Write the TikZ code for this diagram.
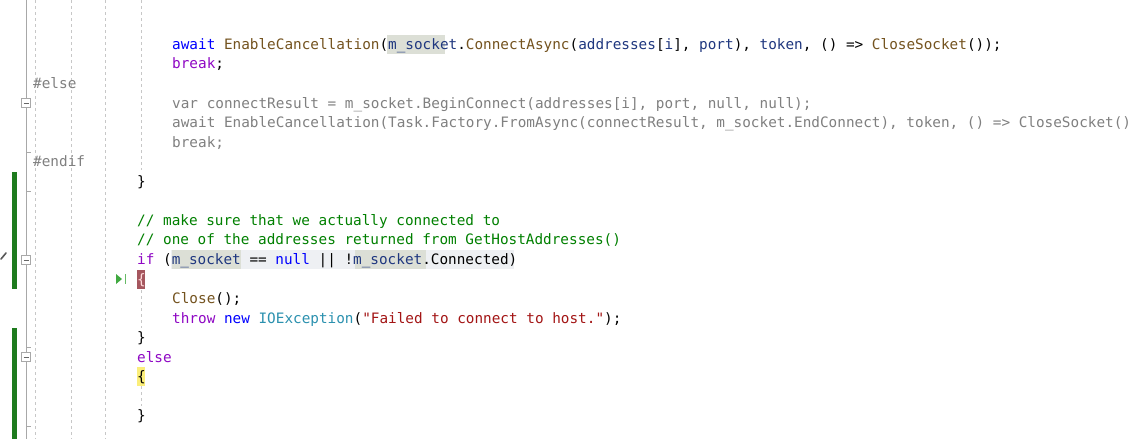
\documentclass[tikz,border=0pt]{standalone}
\usepackage{fontspec}
\newfontfamily\codefont{DejaVu Sans Mono}[Ligatures=NoCommon]
\definecolor{ckwc}{HTML}{8F08C4}
\definecolor{cbluec}{HTML}{0000FF}
\definecolor{cmethc}{HTML}{74531F}
\definecolor{cvarc}{HTML}{1F377F}
\definecolor{ccmtc}{HTML}{008000}
\definecolor{cstrc}{HTML}{A31515}
\definecolor{ctypec}{HTML}{2B91AF}
\definecolor{cgrayc}{HTML}{808080}
\definecolor{gutterc}{HTML}{A8A8A8}
\definecolor{greenbar}{HTML}{1E7B1E}
\definecolor{hlsym}{HTML}{DCDFD6}
\definecolor{hlline}{HTML}{EEF0F3}
\definecolor{bracered}{HTML}{A5565E}
\definecolor{braceyel}{HTML}{FBEE7A}
\newcommand{\ckw}[1]{\textcolor{ckwc}{#1}}
\newcommand{\cbl}[1]{\textcolor{cbluec}{#1}}
\newcommand{\cme}[1]{\textcolor{cmethc}{#1}}
\newcommand{\cva}[1]{\textcolor{cvarc}{#1}}
\newcommand{\ccm}[1]{\textcolor{ccmtc}{#1}}
\newcommand{\cst}[1]{\textcolor{cstrc}{#1}}
\newcommand{\cty}[1]{\textcolor{ctypec}{#1}}
\begin{document}
\begin{tikzpicture}[x=1pt,y=-1pt,
  code/.style={anchor=base west,inner sep=0pt,font=\codefont\fontsize{14.35}{16}\selectfont},
  gray code/.style={code,text=cgrayc},
  guide/.style={draw=black!22,dash pattern=on 3pt off 3pt,line width=0.8pt},
  foldbox/.style={draw=gutterc,fill=white,minimum size=9pt,inner sep=0pt,line width=0.7pt},
  gbar/.style={fill=greenbar,draw=none}]
\useasboundingbox (0,0) rectangle (1145,439);
\fill[white] (0,0) rectangle (1145,439);
% guides
\draw[guide] (35,0) -- (35,439);
\draw[guide] (71,0) -- (71,439);
\draw[guide] (105,0) -- (105,439);
\draw[guide] (141,0) -- (141,170);
\draw[guide] (141,290) -- (141,328);
\draw[guide] (141,386) -- (141,406);
% gutter outline line
\draw[gutterc,line width=0.8pt] (26,0) -- (26,439);
\foreach \yy in {152,191,347,426} \draw[gutterc,line width=0.8pt] (26,\yy) -- (31,\yy);
\node[foldbox] (f1) at (26,103) {};
\node[foldbox] (f2) at (26,260) {};
\node[foldbox] (f3) at (26,357) {};
\foreach \f in {f1,f2,f3} \draw[black!60,line width=0.8pt] ([xshift=-2.5pt]\f.center) -- ([xshift=2.5pt]\f.center);
% green change bars
\fill[gbar] (12,172) rectangle (17,289);
\fill[gbar] (12,328) rectangle (17,439);
% pencil
\draw[black!65,line width=1.6pt,line cap=round] (1,259) -- (6,253);
% highlights
\fill[hlsym] (387,35) rectangle (445,54);
\fill[hlline] (171,250) rectangle (514,269);
\fill[hlsym] (172,250) rectangle (241,269);
\fill[hlsym] (355,250) rectangle (426,269);
\fill[bracered] (137,270) rectangle (145,289);
\fill[braceyel] (137,367) rectangle (145,386);
% green run arrow
\fill[green!55!black!75] (116,274) -- (122,279) -- (116,284) -- cycle;
\draw[green!55!black!60,line width=1pt] (125.5,274) -- (125.5,284);
% code lines
\node[code] (l1) at (172,49) {\cbl{await} \cme{EnableCancellation}(\cva{m\_socket}.\cme{ConnectAsync}(\cva{addresses}[\cva{i}], \cva{port}), \cva{token}, () => \cme{CloseSocket}());};
\node[code] (l2) at (172,68) {\ckw{break};};
\node[gray code] (l3) at (33,88) {\#else};
\node[gray code] (l4) at (172,108) {var connectResult = m\_socket.BeginConnect(addresses[i], port, null, null);};
\node[gray code] (l5) at (172,127) {await EnableCancellation(Task.Factory.FromAsync(connectResult, m\_socket.EndConnect), token, () => CloseSocket()};
\node[gray code] (l6) at (172,147) {break;};
\node[gray code] (l7) at (33,166) {\#endif};
\node[code] (l8) at (137,186) {\}};
\node[code] (l9) at (137,225) {\ccm{// make sure that we actually connected to}};
\node[code] (l10) at (137,244) {\ccm{// one of the addresses returned from GetHostAddresses()}};
\node[code] (l11) at (137,264) {\ckw{if} (\cva{m\_socket} == \cbl{null} || !\cva{m\_socket}.Connected)};
\node[code,text=white!85!red] (l12) at (137,284) {\{};
\node[code] (l13) at (172,303) {\cme{Close}();};
\node[code] (l14) at (172,323) {\ckw{throw} \cbl{new} \cty{IOException}(\cst{"Failed to connect to host."});};
\node[code] (l15) at (137,342) {\}};
\node[code] (l16) at (137,362) {\ckw{else}};
\node[code] (l17) at (137,381) {\{};
\node[code] (l18) at (137,420) {\}};
\end{tikzpicture}
\end{document}
